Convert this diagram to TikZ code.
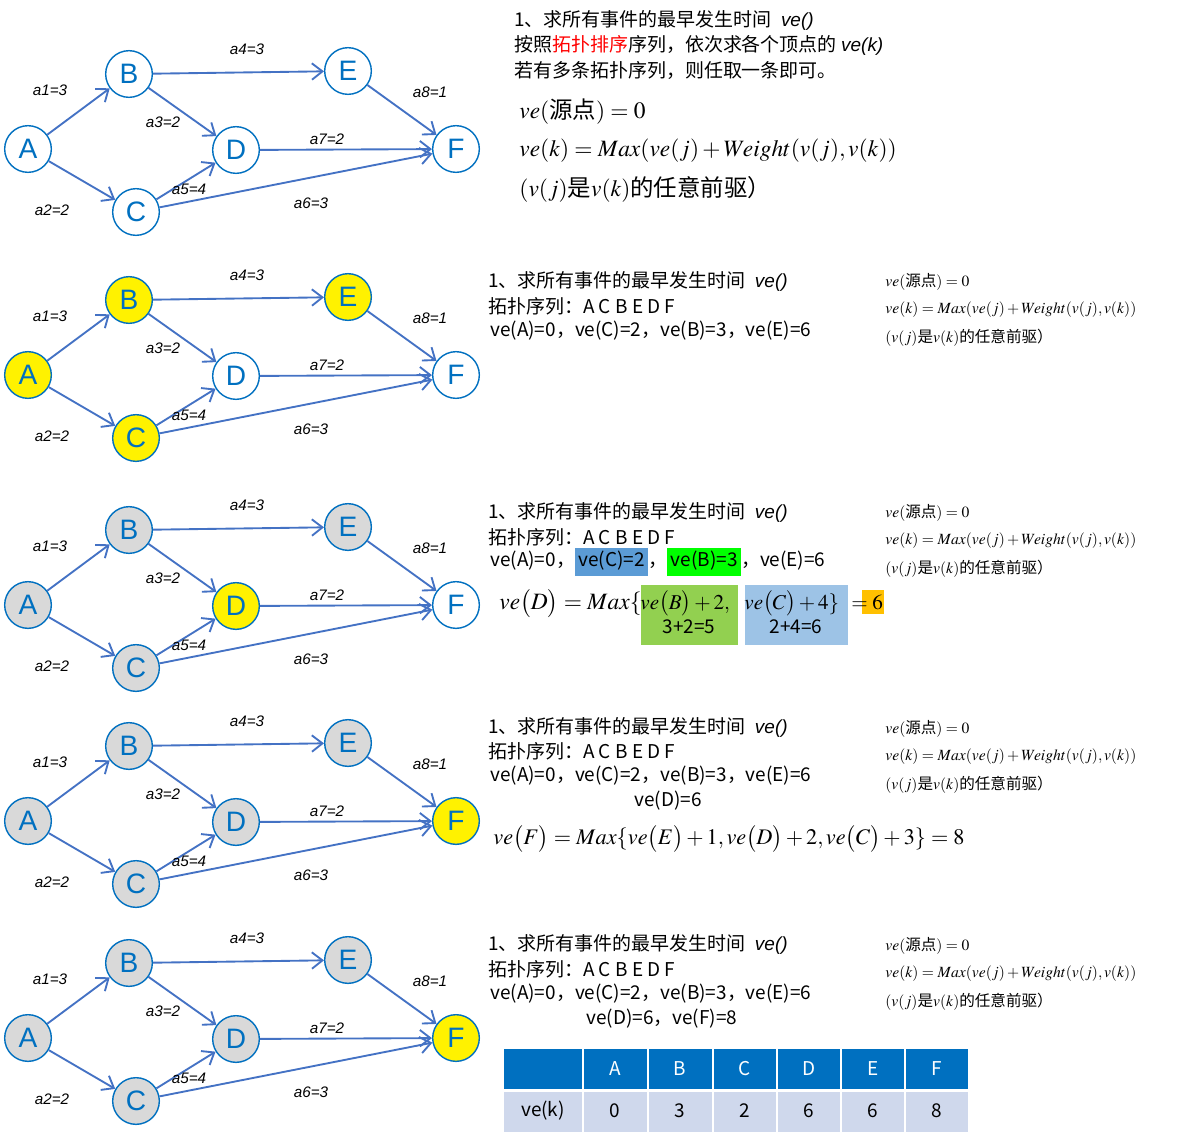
\documentclass[tikz,border=0pt]{standalone}
\usepackage{amsmath}
\usepackage{mathptmx}
\usepackage{fontspec}
\setsansfont{Liberation Sans}
\newfontfamily\cjk{Noto Sans CJK SC}
\usetikzlibrary{arrows.meta}
\definecolor{edgeblue}{RGB}{68,114,196}
\definecolor{nodeblue}{RGB}{0,112,192}
\definecolor{doneg}{RGB}{217,217,217}
\definecolor{hlblue}{RGB}{91,155,213}
\definecolor{boxg}{RGB}{146,208,80}
\definecolor{boxb}{RGB}{157,195,230}
\definecolor{boxo}{RGB}{255,192,0}
\definecolor{rowb}{RGB}{207,216,236}
\tikzset{
  vtx/.style={circle,draw=nodeblue,line width=1.2pt,minimum size=1.4cm,inner sep=0pt,
    fill=#1,text=nodeblue,font=\sffamily\fontsize{24}{24}\selectfont},
  edge/.style={draw=edgeblue,line width=1.6pt,-{Straight Barb[length=9pt,width=14pt]}},
  wlab/.style={font=\sffamily\itshape\fontsize{13}{13}\selectfont},
  txt/.style={anchor=west,inner sep=0pt,font=\cjk\fontsize{16.2}{16.2}\selectfont},
  fml/.style={anchor=west,inner sep=1pt,font=\fontsize{18}{18}\selectfont},
  sfml/.style={anchor=west,inner sep=1pt,font=\fontsize{13.3}{13.3}\selectfont},
}
\newcommand\veit{{\sffamily\itshape ve()}}
% one copy of the graph, shifted down by #1 pixels
\newcommand\gpanel[7]{%
  \begin{scope}[shift={(0,#1)}]
    \node[vtx=#2] (A) at (28,149) {A};
    \node[vtx=#3] (B) at (129,74) {B};
    \node[vtx=#4] (C) at (136,212) {C};
    \node[vtx=#5] (D) at (236,150) {D};
    \node[vtx=#6] (E) at (348,71) {E};
    \node[vtx=#7] (F) at (456,149) {F};
    \draw[edge] (A) -- (B);
    \draw[edge] (A) -- (C);
    \draw[edge] (B) -- (E);
    \draw[edge] (B) -- (D);
    \draw[edge] (C) -- (D);
    \draw[edge] (C) -- (F);
    \draw[edge] (D) -- (F);
    \draw[edge] (E) -- (F);
    \node[wlab] (w1) at (50,90) {a1=3};
    \node[wlab] (w2) at (52,210) {a2=2};
    \node[wlab] (w3) at (163,122) {a3=2};
    \node[wlab] (w4) at (247,49) {a4=3};
    \node[wlab] (w5) at (189,189) {a5=4};
    \node[wlab] (w6) at (311,203) {a6=3};
    \node[wlab] (w7) at (327,139) {a7=2};
    \node[wlab] (w8) at (430,92) {a8=1};
  \end{scope}}
% the three small rules, top at #1
\newcommand\rules[1]{%
  \node[sfml] at (884,#1) {$ve(\mbox{\cjk 源点})=0$};
  \node[sfml] at (884,#1+28) {$ve(k)=Max(ve(j)+Weight(v(j),v(k))$};
  \node[sfml] at (884,#1+56) {$(v(j)\mbox{\cjk 是}v(k)\mbox{\cjk 的任意前驱）}$};}

\begin{document}
\begin{tikzpicture}[x=0.03cm,y=-0.03cm]
  \useasboundingbox (0,0) rectangle (1178,1139);

  \gpanel{0}{white}{white}{white}{white}{white}{white}
  \gpanel{226}{yellow}{yellow}{yellow}{white}{yellow}{white}
  \gpanel{456}{doneg}{doneg}{doneg}{yellow}{doneg}{white}
  \gpanel{672}{doneg}{doneg}{doneg}{doneg}{doneg}{yellow}
  \gpanel{889}{doneg}{doneg}{doneg}{doneg}{doneg}{yellow}

  % panel 1
  \node[txt] (t11) at (514,20) {1、求所有事件的最早发生时间\enspace\veit};
  \node[txt] (t12) at (514,45) {按照\textcolor{red}{拓扑排序}序列，依次求各个顶点的 {\sffamily\itshape ve(k)}};
  \node[txt] (t13) at (514,70) {若有多条拓扑序列，则任取一条即可。};
  \node[fml,font=\fontsize{20}{20}\selectfont] (f11) at (518,112) {$ve(\mbox{\cjk 源点})=0$};
  \node[fml,font=\fontsize{20}{20}\selectfont] (f12) at (518,151) {$ve(k)=Max(ve(j)+Weight(v(j),v(k))$};
  \node[fml,font=\fontsize{20}{20}\selectfont] (f13) at (518,189) {$(v(j)\mbox{\cjk 是}v(k)\mbox{\cjk 的任意前驱）}$};

  % panel 2
  \node[txt] (t21) at (488,281) {1、求所有事件的最早发生时间\enspace\veit};
  \node[txt] (t22) at (488,306) {拓扑序列：A C B E D F};
  \node[txt] (t23) at (490,331) {ve(A)=0，ve(C)=2，ve(B)=3，ve(E)=6};
  \rules{282}

  % panel 3
  \node[txt] (t31) at (488,512) {1、求所有事件的最早发生时间\enspace\veit};
  \node[txt] (t32) at (488,537) {拓扑序列：A C B E D F};
  \node[txt] (t33) at (490,562) {ve(A)=0，\colorbox{hlblue}{\strut ve(C)=2}，\colorbox{green}{\strut ve(B)=3}，ve(E)=6};
  \rules{513}
  \fill[boxg] (641,585) rectangle (738,645);
  \fill[boxb] (745,585) rectangle (848,645);
  \fill[boxo] (862,590) rectangle (884,614);
  \node[fml,anchor=base east,font=\fontsize{20}{20}\selectfont] (f31) at (643,609) {$ve\bigl(D\bigr)=Max\{$};
  \node[fml,anchor=base west] (f32) at (639,609) {$ve\bigl(B\bigr)+2,$};
  \node[fml,anchor=base west] (f33) at (743,609) {$ve\bigl(C\bigr)+4\}$};
  \node[fml,anchor=base west] (f34) at (850,609) {$=6$};
  \node[txt,anchor=center] (s31) at (689,627) {3+2=5};
  \node[txt,anchor=center] (s32) at (796,627) {2+4=6};

  % panel 4
  \node[txt] (t41) at (488,727) {1、求所有事件的最早发生时间\enspace\veit};
  \node[txt] (t42) at (488,751) {拓扑序列：A C B E D F};
  \node[txt] (t43) at (490,776) {ve(A)=0，ve(C)=2，ve(B)=3，ve(E)=6};
  \node[txt] (t44) at (634,801) {ve(D)=6};
  \rules{729}
  \node[fml,font=\fontsize{19}{19}\selectfont] (f41) at (492,839) {$ve\bigl(F\bigr)=Max\{ve\bigl(E\bigr)+1,ve\bigl(D\bigr)+2,ve\bigl(C\bigr)+3\}=8$};

  % panel 5
  \node[txt] (t51) at (488,944) {1、求所有事件的最早发生时间\enspace\veit};
  \node[txt] (t52) at (488,969) {拓扑序列：A C B E D F};
  \node[txt] (t53) at (490,994) {ve(A)=0，ve(C)=2，ve(B)=3，ve(E)=6};
  \node[txt] (t54) at (586,1019) {ve(D)=6，ve(F)=8};
  \rules{946}

  % result table
  \fill[nodeblue] (504,1049) rectangle (968,1089);
  \fill[rowb] (504,1092) rectangle (968,1132);
  \foreach \xx in {583,648,713,777,841,905}
    \draw[white,line width=1.5pt] (\xx,1049) -- (\xx,1132);
  \draw[white,line width=2pt] (504,1090.5) -- (968,1090.5);
  \foreach \nm/\xx/\vv in {A/615/0,B/680/3,C/745/2,D/809/6,E/873/6,F/937/8} {
    \node[txt,anchor=center,text=white] (h\nm) at (\xx,1069) {\nm};
    \node[txt,anchor=center] (v\nm) at (\xx,1111) {\vv};
  }
  \node[txt,anchor=center] (rk) at (543,1111) {ve(k)};
\end{tikzpicture}
\end{document}
